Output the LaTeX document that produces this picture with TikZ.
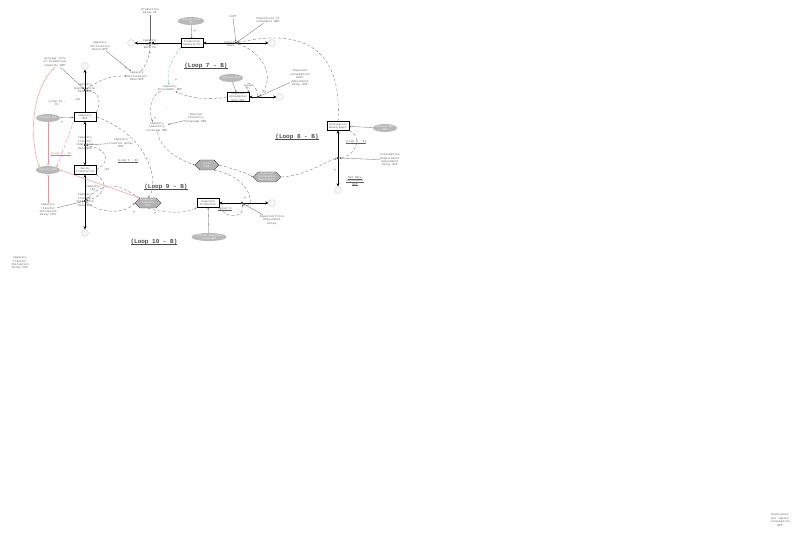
\documentclass[tikz,border=0pt]{standalone}
\usepackage{fontspec}
\setmonofont{Liberation Mono}
\usetikzlibrary{shapes.geometric,shapes.symbols,arrows.meta}
\newcommand\ulx[1]{\setbox0\hbox{#1}\rlap{\copy0}\rule[-0.5pt]{\wd0}{0.25pt}}

\begin{document}
\begin{tikzpicture}[x=1pt,y=-1pt,
  txt/.style={font=\ttfamily\fontsize{2.9}{3.4}\selectfont,text=gray!75!black,align=center,inner sep=0.3pt},
  stock/.style={draw,line width=0.6pt,minimum width=22pt,minimum height=8.5pt,inner sep=0.3pt,fill=white,font=\ttfamily\fontsize{2.7}{3.1}\selectfont,text=gray!70!black,align=center},
  shadowvar/.style={ellipse,fill=gray!55,minimum width=21pt,minimum height=8pt,inner sep=0pt,font=\ttfamily\fontsize{2.6}{3}\selectfont,text=white,align=center},
  hexa/.style={signal,signal to=east and west,draw=gray!60!black,fill=gray!60,minimum width=24pt,minimum height=10pt,inner sep=0.3pt,font=\ttfamily\fontsize{2.6}{3}\selectfont,text=white,align=center},
  cloudnode/.style={circle,draw=gray!35,fill=gray!6,minimum size=7pt,inner sep=0pt},
  valve/.style={circle,fill=black,minimum size=2.2pt,inner sep=0pt},
  flow/.style={line width=0.9pt,-{Stealth[length=3pt,width=3pt]}},
  link/.style={gray!80!black,densely dashed,line width=0.3pt,-{Stealth[length=2pt,width=1.6pt]}},
  plainlink/.style={gray!80!black,line width=0.3pt,-{Stealth[length=2pt,width=1.6pt]}},
  redlink/.style={red!45,line width=0.45pt,-{Stealth[length=2.2pt,width=1.8pt]}},
  looplbl/.style={font=\ttfamily\bfseries\fontsize{6}{6.5}\selectfont,text=gray!60!black,inner sep=0.3pt},
  sign/.style={font=\ttfamily\fontsize{4}{4}\selectfont,text=gray!70!black,inner sep=0pt}]
\useasboundingbox (0,0) rectangle (800,534);

% top row
\node[txt] (proddelay) at (150,11){Production\\Delay PF};
\node[cloudnode] (cloudA) at (131,43){};
\node[valve] (valveProd) at (150,43){};
\node[txt] (valveProdL) at (150,44){Capacity\\Production\\Rate PF};
\node[stock] (stockProd) at (192,43){Production\\Capacity PF};
\node[shadowvar] (initProd) at (191,21){Initial Prod\\PF};
\node[valve] (valveCap) at (236,43){};
\node[txt] (valveCapL) at (231,44){Capacity\\Rate};
\node[txt] (capt) at (233,17){CAPT};
\node[txt] (popul) at (268,20){Population of\\Consumers NPP};
\node[cloudnode] (cloudB) at (272,43){};
\node[txt] (utilratio) at (100,46){Capacity\\Utilization\\Ratio NPP};
\node[txt] (utilrate) at (137,76){Capacity\\Utilization\\Rate NPP};
\node[looplbl] (loop7) at (206,66){\ulx{(Loop 7 - B)}};

% left column
\node[cloudnode] (cloudTop) at (85,66){};
\node[valve] (valveDep) at (85,90){};
\node[txt] (valveDepL) at (85,88){Capacity\\Depreciation\\Rate NPP};
\node[txt] (avglife) at (55,62){Average life\\of Production\\Capacity NPP};
\node[txt] (loop11) at (57,103){(Loop 11 -\\B)};
\node[txt] (b11) at (78,100){(B)};
\node[stock] (stockCap) at (85,117){Capacity\\NPP};
\node[shadowvar] (initCap) at (48,118){Initial NPP};
\node[valve] (valveTrans) at (85,145){};
\node[txt] (valveTransL) at (85,143){Capacity\\Transfer\\Completion\\Rate NPP};
\node[txt] (transdelay) at (121,143){Capacity\\Transfer Delay\\NPP};
\node[txt,text=red!60] (loop6) at (61,154){\ulx{(Loop 6 - B)}};
\node[txt] (loop5) at (128,161){\ulx{(Loop 5 - B)}};
\node[stock] (stockTrans) at (85,170){Being\\Transferred};
\node[txt] (b5) at (107,170){(B)};
\node[shadowvar] (initRed) at (48,170){Initial PPD};
\node[txt] (capB) at (93,188){Capacity\\(B)};
\node[valve] (valveInit) at (85,201){};
\node[txt] (valveInitL) at (85,200){Capacity\\Transfer\\Initiation\\Rate NPP};
\node[txt] (initdelay) at (48,210){Capacity\\Transfer\\Initiation\\Delay PPD};
\node[cloudnode] (cloudBot) at (85,233){};
\node[txt] (orphan) at (20,263){Capacity\\Transfer\\Initiation\\Delay PPD};

% middle
\node[txt] (capinvest) at (170,88){Capacity\\Investment NPP};
\node[txt] (desired) at (196,118){Desired\\Inventory\\Coverage NPP};
\node[txt] (coverage) at (157,127){Capacity\\Inventory\\Coverage NPP};
\node[stock] (stockCons) at (238,97){Expected\\Consumption\\Rate NPP};
\node[shadowvar] (initCons) at (231,78){Initial ECR};
\node[valve] (valveCons) at (258,97){};
\node[txt] (loop2) at (248,87){(Loop\\2)};
\node[cloudnode] (cloudC) at (280,97){};
\node[txt] (consdelay) at (300,78){Expected\\Consumption\\Rate\\Adjustment\\Delay NPP};
\node[hexa] (hexPrice) at (207,165){Price\\PPM};
\node[hexa] (hexExp) at (267,177){Expected\\Consumption\\Requirement};
\node[hexa] (hexProd) at (148,203){Production\\Capacity\\NPP};
\node[looplbl] (loop9) at (166,187){\ulx{(Loop 9 - B)}};
\node[looplbl] (loop10) at (154,242){\ulx{(Loop 10 - B)}};
\node[stock] (stockPrice) at (208,203){Expected\\Production};
\node[valve] (valvePrice) at (242,203){};
\node[cloudnode] (cloudD) at (272,203){};
\node[shadowvar] (initPrice) at (209,237){Initial Expected\\Price NPP};
\node[txt] (loop3) at (225,209){\ulx{(Loop 3)}};
\node[txt] (pricedelay) at (272,220){Expected Price\\Adjustment\\Delay};

% right
\node[stock] (stockReq) at (338,126){Consumption\\Requirement};
\node[shadowvar] (initReq) at (385,128){Initial CRI\\NPP};
\node[valve] (valveReq) at (338,158){};
\node[cloudnode] (cloudE) at (338,190){};
\node[txt] (loop4) at (356,142){\ulx{(Loop 4 - B)}};
\node[looplbl] (loop8) at (297,137){\ulx{(Loop 8 - B)}};
\node[txt] (reqdelay) at (390,160){Consumption\\Requirement\\Adjustment\\Delay NPP};
\node[txt] (netrate) at (355,181){\ulx{Net Rate}\\\ulx{Adjustment}\\\ulx{NPP}};
\node[txt] (percap) at (780,520){Equivalent\\per capita\\consumption\\NPP};

% flows
\draw[flow] (stockProd) -- (valveProd);
\draw[flow] (valveProd) -- (cloudA);
\draw[flow] (valveCap) -- (stockProd);
\draw[flow] (valveCap) -- (cloudB);
\draw[flow] (stockCap) -- (valveDep) -- (cloudTop);
\draw[flow] (valveTrans) -- (stockCap);
\draw[flow] (valveTrans) -- (stockTrans);
\draw[flow] (valveInit) -- (stockTrans);
\draw[flow] (valveInit) -- (cloudBot);
\draw[flow] (valveCons) -- (stockCons);
\draw[flow] (valveCons) -- (cloudC);
\draw[flow] (valvePrice) -- (stockPrice);
\draw[flow] (valvePrice) -- (cloudD);
\draw[flow] (valveReq) -- (stockReq);
\draw[flow] (valveReq) -- (cloudE);

% connectors
\draw[plainlink] (proddelay) -- (valveProd);
\draw[plainlink] (initProd) -- (stockProd);
\draw[plainlink] (capt) -- (valveCap);
\draw[plainlink] (popul) -- (valveCap);
\draw[link] (stockReq.north) .. controls (342,60) and (315,25) .. (valveCap);
\draw[link] (valveCons) .. controls (278,78) and (262,52) .. (valveCap);
\draw[link] (valveCons) .. controls (256,80) and (240,80) .. (stockCons.north east);
\draw[link,cyan!60!gray] (stockProd.south west) .. controls (172,58) and (166,72) .. (capinvest);
\draw[link] (stockCons.west) .. controls (210,101) and (185,97) .. (capinvest);
\draw[link] (capinvest) .. controls (150,95) and (148,115) .. (coverage);
\draw[plainlink] (desired) -- (coverage);
\draw[link] (coverage) .. controls (160,150) and (180,160) .. (hexPrice.west);
\draw[link] (hexPrice.east) .. controls (230,168) and (245,172) .. (hexExp.west);
\draw[link] (hexExp.east) .. controls (305,176) and (325,162) .. (valveReq);
\draw[link] (stockReq.south east) .. controls (362,135) and (358,156) .. (valveReq);
\draw[plainlink] (initCons) -- (stockCons);
\draw[plainlink] (consdelay) -- (valveCons);
\draw[plainlink] (initReq) -- (stockReq);
\draw[plainlink] (reqdelay) -- (valveReq);
\draw[link] (hexPrice.south east) .. controls (255,178) and (255,212) .. (valvePrice);
\draw[link] (stockPrice.south east) .. controls (230,222) and (245,215) .. (valvePrice);
\draw[link] (hexProd.south) .. controls (170,215) and (190,212) .. (stockPrice.south west);
\draw[plainlink] (initPrice) -- (stockPrice);
\draw[plainlink] (pricedelay) -- (valvePrice);
\draw[link] (stockCap.east) .. controls (150,135) and (160,185) .. (hexProd.north);
\draw[link] (valveDep) .. controls (100,80) and (108,76) .. (utilrate);
\draw[plainlink] (utilratio) -- (utilrate);
\draw[link] (utilrate) .. controls (145,66) and (150,58) .. (valveProd);
\draw[plainlink] (avglife) -- (valveDep);
\draw[link] (stockCap.north east) .. controls (100,105) and (102,92) .. (valveDep);
\draw[plainlink] (initCap) -- (stockCap);
\draw[plainlink] (transdelay) -- (valveTrans);
\draw[link] (stockTrans.east) .. controls (112,160) and (108,150) .. (valveTrans);
\draw[link] (stockTrans.south east) .. controls (112,185) and (100,198) .. (valveInit);
\draw[plainlink] (initdelay) -- (valveInit);
\draw[link] (valveInit) .. controls (100,214) and (125,214) .. (hexProd.west);
\draw[link] (hexProd.north west) .. controls (125,190) and (110,175) .. (valveInit);

% red links
\draw[redlink] (avglife.south) .. controls (30,90) and (30,140) .. (initRed.north west);
\draw[redlink] (initCap) -- (initRed);
\draw[redlink,densely dashed] (stockCap.south west) -- (initRed.north east);
\draw[redlink] (initdelay.north) -- (initRed.south);
\draw[redlink] (hexProd.north west) -- (initRed.east);

% polarity signs
\node[sign] (s1) at (195,31){+};
\node[sign] (s2) at (176,80){+};
\node[sign] (s3) at (178,95){-};
\node[sign] (s4) at (150,53){+};
\node[sign] (s5) at (126,68){+};
\node[sign] (s6) at (62,122){+};
\node[sign] (s7) at (98,128){-};
\node[sign] (s8) at (155,118){+};
\node[sign] (s9) at (166,110){-};
\node[sign] (s10) at (265,92){+};
\node[sign] (s11) at (340,165){-};
\node[sign] (s12) at (335,170){+};
\node[sign] (s13) at (134,212){+};
\node[sign] (s14) at (155,213){+};
\node[sign] (s15) at (245,198){+};
\node[sign] (s16) at (245,208){-};
\end{tikzpicture}
\end{document}
